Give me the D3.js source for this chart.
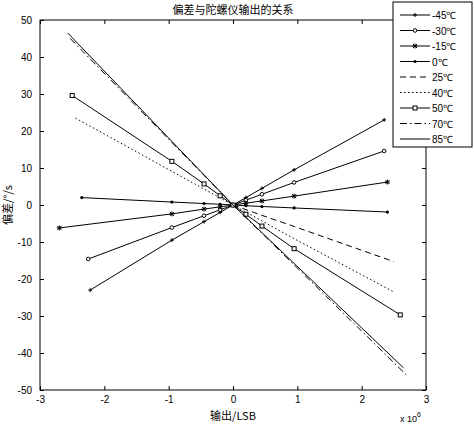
<!DOCTYPE html>
<html><head><meta charset="utf-8">
<script src="https://cdn.jsdelivr.net/npm/d3@7"></script>
<style>body{margin:0;background:#fff;font-family:"Liberation Sans",Arial,sans-serif;}</style>
</head><body>
<script>
const seriesNames = ["-45℃","-30℃","-15℃","0℃","25℃","40℃","50℃","70℃","85℃"];
const s45 = [[-2.22,-23],[-0.95,-9.5],[-0.45,-4.5],[-0.2,-2],[0,0],[0.2,2],[0.45,4.5],[0.95,9.5],[2.35,23]];
const s30 = [[-2.25,-14.6],[-0.95,-6.1],[-0.45,-2.9],[-0.2,-1.3],[0,0],[0.2,1.3],[0.45,2.9],[0.95,6.1],[2.35,14.6]];
const s15 = [[-2.7,-6.2],[-0.95,-2.4],[-0.45,-1.1],[-0.2,-0.5],[0,0],[0.2,0.5],[0.45,1.1],[0.95,2.4],[2.4,6.2]];
const s0 = [[-2.35,2],[-0.95,0.8],[-0.45,0.4],[-0.2,0.2],[0,0],[0.2,-0.2],[0.45,-0.4],[0.95,-0.8],[2.4,-1.9]];
const s25 = [[0,0],[0.45,-2.8],[0.95,-5.8],[2.5,-15.3]];
const s40 = [[-2.45,23.5],[-0.95,9.1],[-0.45,4.3],[0,0],[0.45,-4.3],[0.95,-9.1],[2.5,-23.5]];
const s50 = [[-2.5,29.6],[-0.95,11.8],[-0.45,5.7],[-0.2,2.5],[0,0],[0.2,-2.5],[0.45,-5.7],[0.95,-11.8],[2.6,-29.7]];
const s70 = [[-2.53,45],[0,0],[2.7,-46]];
const s85 = [[-2.57,46.5],[0,0],[2.65,-44]];
const seriesData = [s45,s30,s15,s0,s25,s40,s50,s70,s85];
const dashes = [null,null,null,null,"6,4","1.5,2.5",null,"7,3,1.5,3",null];
const markers = ["plus","circle","star","dot",null,null,"square",null,null];
const xTicks = [-3,-2,-1,0,1,2,3];
const yTicks = [-50,-40,-30,-20,-10,0,10,20,30,40,50];

const W=474,H=428, L=40,R=426,T=20,B=390;
const svg=d3.select("body").append("svg").attr("width",W).attr("height",H);
const x=d3.scaleLinear().domain([-3,3]).range([L,R]);
const y=d3.scaleLinear().domain([-50,50]).range([B,T]);

svg.append("rect").attr("x",L).attr("y",T).attr("width",R-L).attr("height",B-T).attr("fill","none").attr("stroke","#000");
const ax=svg.append("g").attr("transform",`translate(0,${B})`).call(d3.axisBottom(x).tickValues(xTicks).tickSize(-4).tickPadding(6).tickFormat(d=>d));
const ax2=svg.append("g").attr("transform",`translate(0,${T})`).call(d3.axisTop(x).tickValues(xTicks).tickSize(-4).tickFormat(""));
const ay=svg.append("g").attr("transform",`translate(${L},0)`).call(d3.axisLeft(y).tickValues(yTicks).tickSize(-4).tickPadding(8).tickFormat(d=>d));
const ay2=svg.append("g").attr("transform",`translate(${R},0)`).call(d3.axisRight(y).tickValues(yTicks).tickSize(-4).tickFormat(""));
[ax,ax2,ay,ay2].forEach(g=>{g.select(".domain").remove();g.selectAll("text").attr("font-size",10).attr("font-family","Liberation Sans");});

const line=d3.line().x(d=>x(d[0])).y(d=>y(d[1]));
function marker(g,type,px,py){
  if(type==="plus"){g.append("path").attr("d",`M${px-2},${py}H${px+2}M${px},${py-2}V${py+2}`).attr("stroke","#000");}
  else if(type==="circle"){g.append("circle").attr("cx",px).attr("cy",py).attr("r",1.8).attr("fill","#fff").attr("stroke","#000");}
  else if(type==="star"){g.append("path").attr("d",`M${px-2.5},${py}H${px+2.5}M${px},${py-2.5}V${py+2.5}M${px-2},${py-2}L${px+2},${py+2}M${px-2},${py+2}L${px+2},${py-2}`).attr("stroke","#000");}
  else if(type==="dot"){g.append("circle").attr("cx",px).attr("cy",py).attr("r",1.6).attr("fill","#000");}
  else if(type==="square"){g.append("rect").attr("x",px-2).attr("y",py-2).attr("width",4).attr("height",4).attr("fill","#fff").attr("stroke","#000");}
}
seriesData.forEach((s,i)=>{
  svg.append("path").datum(s).attr("d",line).attr("fill","none").attr("stroke","#000").attr("stroke-width",1)
    .attr("stroke-dasharray",dashes[i]);
  if(markers[i]){const g=svg.append("g");s.forEach(d=>marker(g,markers[i],x(d[0]),y(d[1])));}
});

svg.append("text").attr("x",(L+R)/2).attr("y",14).attr("text-anchor","middle").attr("font-size",11).attr("font-family","Noto Sans CJK SC").text("偏差与陀螺仪输出的关系");
svg.append("text").attr("x",(L+R)/2).attr("y",420).attr("text-anchor","middle").attr("font-size",11).attr("font-family","Noto Sans CJK SC").text("输出/LSB");
svg.append("text").attr("transform",`translate(12,${(T+B)/2}) rotate(-90)`).attr("text-anchor","middle").attr("font-size",11).attr("font-family","Noto Sans CJK SC").text("偏差/°/s");
const ex=svg.append("text").attr("x",400).attr("y",422).attr("font-size",9).attr("font-family","Liberation Sans");
ex.append("tspan").text("x 10");ex.append("tspan").attr("dy",-5).attr("font-size",7).text("6");

const lg=svg.append("g");
lg.append("rect").attr("x",393).attr("y",2).attr("width",79).attr("height",145).attr("fill","#fff").attr("stroke","#000");
seriesNames.forEach((n,i)=>{
  const yy=15+i*15.5;
  lg.append("line").attr("x1",400).attr("x2",430).attr("y1",yy).attr("y2",yy).attr("stroke","#000").attr("stroke-dasharray",dashes[i]);
  if(markers[i]) marker(lg,markers[i],415,yy);
  lg.append("text").attr("x",432).attr("y",yy+4).attr("font-size",10).attr("font-family","Liberation Sans").text(n);
});
</script>
</body></html>
